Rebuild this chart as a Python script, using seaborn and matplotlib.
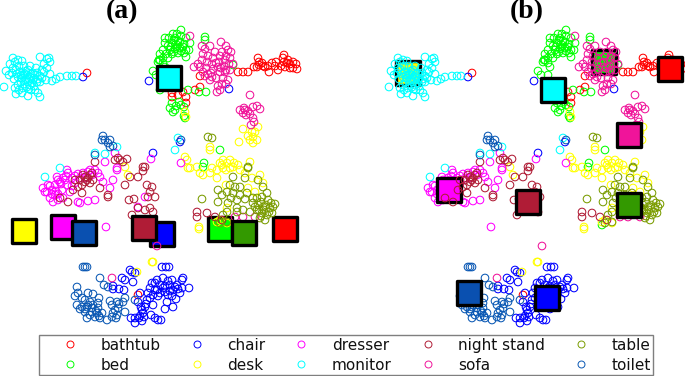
import matplotlib
matplotlib.use("Agg")
import matplotlib.pyplot as plt
from matplotlib.lines import Line2D
import seaborn as sns
import pandas as pd

sns.set_theme(style="white")

categories = ["bathtub", "bed", "chair", "desk", "dresser", "monitor", "night stand", "sofa", "table", "toilet"]
ring_colors = ["#ff0000", "#00ff00", "#0000ff", "#ffff00", "#ff00ff", "#00ffff", "#b01c36", "#f0149a", "#7a9c00", "#0a58b4"]
square_colors = ["#ff0000", "#00ff00", "#0000ff", "#ffff00", "#ff00ff", "#00ffff", "#b01c36", "#f0149a", "#339900", "#0a50b0"]

bathtub = [(258,58),(259,62),(257,67),(254,67),(262,63),(265,67),(269,72),(272,63),(275,66),(278,70),(276,62),(283,58),(284,55),(284,62),(288,60),(290,64),(293,62),(296,64),(297,69),(290,68),(285,67),(281,66),(293,68),(259,65),(263,66),(268,66),(287,63),(248,72),(243,72),(238,72),(87,73),(200,76),(195,90),(200,87),(178,95),(172,97),(186,97),(172,93),(186,103),(183,92),(138,295)]
bed = [(181,30),(177,34),(173,34),(165,38),(169,38),(175,38),(181,36),(186,38),(172,43),(168,46),(176,44),(180,42),(184,44),(190,43),(175,49),(170,50),(180,48),(186,50),(163,50),(189,50),(166,54),(172,54),(178,53),(184,53),(160,54),(186,57),(159,60),(163,58),(163,63),(158,62),(160,60),(165,67),(205,37),(205,40),(233,65),(153,71),(156,75),(163,75),(174,40),(178,41),(171,47),(177,47),(183,47),(174,52),(181,51),(165,43),(168,58),(160,90),(188,90),(199,92),(206,92),(172,103),(176,106),(170,108),(181,105),(184,107),(175,110),(173,112),(185,118),(184,116),(179,102),(220,150),(204,163),(203,167),(217,225)]
chair = [(130,270),(132,272),(135,273),(122,278),(125,280),(113,286),(113,289),(119,289),(124,290),(133,282),(162,267),(166,267),(169,267),(183,278),(182,280),(157,280),(163,278),(172,280),(152,283),(160,285),(170,285),(177,285),(182,288),(189,288),(150,288),(157,290),(165,292),(173,290),(180,293),(148,293),(153,295),(160,293),(168,295),(176,299),(167,302),(140,293),(147,300),(138,302),(153,305),(145,307),(173,307),(165,309),(142,310),(143,313),(131,318),(135,318),(140,316),(144,317),(151,315),(155,318),(158,320),(161,320),(135,323),(142,321),(155,283),(163,288),(168,281),(175,287),(158,296),(170,291),(178,289),(150,298),(155,290),(165,286),(172,296),(146,304),(141,307),(139,318),(83,77),(149,81),(229,89),(180,142),(153,153)]
desk = [(243,129),(239,142),(250,140),(253,137),(257,140),(255,132),(258,127),(253,143),(248,136),(252,132),(210,147),(210,150),(185,157),(187,160),(197,167),(223,160),(230,160),(220,163),(227,163),(233,167),(250,162),(238,165),(190,168),(185,112),(186,117),(188,168),(200,173),(203,175),(217,178),(210,173),(217,170),(223,168),(230,168),(222,165),(226,170),(234,163),(240,170),(245,173),(212,168),(248,188),(255,192),(263,183),(252,178),(260,175),(199,227),(199,229),(152,262),(153,262),(137,272),(125,167),(128,175),(220,220),(227,208),(217,222),(227,223),(226,185)]
dresser = [(43,188),(48,185),(47,192),(52,190),(55,195),(50,198),(53,202),(58,200),(63,198),(58,180),(63,178),(68,173),(72,178),(67,185),(75,183),(80,178),(83,173),(88,172),(95,170),(100,177),(103,182),(78,202),(80,203),(88,201),(95,200),(113,180),(117,170),(110,188),(145,197),(138,207),(106,227),(60,182),(57,177),(115,153),(105,162),(117,168),(151,159),(181,163),(67,170),(90,170),(55,185),(62,190),(70,192),(50,186),(56,191),(45,192),(61,184),(65,180),(72,186),(78,174),(85,178),(92,175),(58,194),(52,194),(66,176),(75,176),(98,173)]
monitor = [(13,58),(10,64),(15,62),(18,60),(22,61),(19,66),(6,71),(9,75),(12,73),(16,70),(20,72),(24,66),(28,70),(25,74),(14,79),(18,77),(22,78),(26,79),(30,77),(33,73),(36,68),(30,66),(40,57),(47,59),(50,62),(49,58),(44,64),(42,70),(37,73),(40,76),(44,72),(47,68),(50,74),(34,78),(37,82),(32,83),(28,82),(24,84),(21,82),(18,85),(15,88),(19,90),(23,88),(27,87),(31,90),(28,96),(35,90),(40,97),(38,93),(16,94),(22,93),(4,87),(40,82),(46,80),(52,81),(56,79),(60,77),(67,76),(72,76),(76,76),(27,75),(29,79),(31,74),(26,71),(23,75),(35,75),(33,80),(30,85),(25,80),(21,75),(38,79),(42,78),(29,89),(34,86),(17,74),(13,68),(178,138),(175,150),(117,147),(105,154),(95,153),(60,168),(45,177)]
night_stand = [(80,180),(85,177),(90,175),(93,180),(85,182),(78,187),(73,190),(82,193),(68,202),(60,198),(108,197),(100,188),(125,185),(130,177),(138,177),(143,171),(145,167),(147,185),(152,187),(150,192),(155,197),(148,197),(129,200),(134,199),(138,208),(145,210),(150,208),(153,212),(132,215),(197,212),(197,217),(207,213),(215,217),(222,220),(115,160),(120,160),(127,159),(95,162),(143,167),(88,178),(75,180),(83,175),(87,180),(92,173),(82,185),(90,183),(118,158),(123,162),(108,195)]
sofa = [(190,36),(221,42),(226,46),(202,46),(205,49),(210,46),(215,52),(222,52),(228,50),(231,52),(203,54),(208,56),(213,58),(220,56),(226,56),(230,58),(202,60),(207,62),(212,64),(219,62),(225,60),(198,64),(194,67),(200,67),(206,68),(213,69),(218,67),(224,66),(229,64),(233,64),(203,72),(208,74),(212,77),(220,72),(225,72),(230,70),(210,80),(216,78),(223,78),(228,80),(218,86),(222,84),(226,84),(220,90),(217,92),(216,63),(221,68),(226,70),(211,73),(205,76),(250,95),(240,110),(244,108),(248,111),(253,107),(257,106),(260,109),(243,113),(246,115),(250,114),(245,110),(254,122),(253,118),(251,125),(112,278),(157,246),(235,217),(243,217),(255,217)]
table = [(202,199),(218,190),(218,202),(222,195),(230,185),(240,187),(233,177),(245,178),(248,168),(258,180),(263,187),(227,192),(233,193),(240,195),(247,193),(237,200),(228,203),(257,198),(262,197),(267,193),(268,200),(273,207),(253,203),(258,205),(263,207),(270,208),(257,210),(262,213),(267,215),(272,213),(260,218),(265,220),(227,212),(237,208),(243,210),(250,212),(220,223),(227,222),(237,212),(223,215),(261,202),(266,205),(255,207),(259,210),(264,210),(269,212),(261,216),(271,203),(275,204),(253,198),(231,198),(235,187),(245,199),(208,137),(212,138),(248,167)]
toilet = [(85,267),(83,267),(87,267),(100,278),(104,285),(108,287),(77,287),(78,293),(75,296),(82,298),(88,293),(93,294),(99,298),(85,300),(90,302),(77,305),(82,307),(87,307),(93,305),(98,308),(110,301),(117,302),(125,298),(123,302),(135,300),(85,312),(92,312),(97,313),(102,313),(115,310),(118,308),(125,312),(87,318),(95,317),(100,318),(107,320),(112,317),(117,315),(80,309),(88,305),(92,308),(96,311),(85,309),(90,315),(99,316),(113,313),(116,318),(119,304),(112,305),(98,303),(103,136),(105,140),(102,140),(110,140),(108,143),(110,147),(113,146),(95,155),(181,140)]
point_sets = [bathtub, bed, chair, desk, dresser, monitor, night_stand, sofa, table, toilet]

squares_a = [(285,229),(220,229),(162,234),(24,231),(63,227),(169,78),(144,228),(0,0),(244,233),(84,233)]
squares_b = [(285,69),(219,62),(162,298),(23,73),(64,190),(168,90),(143,202),(244,135),(244,205),(84,293)]
panel_titles = ["(a)", "(b)"]

W, H = 685, 376
fig = plt.figure(figsize=(W / 100, H / 100), dpi=100, facecolor="white")
ax_a = fig.add_axes([0, 1 - 335 / H, 340 / W, 335 / H])
ax_b = fig.add_axes([385 / W, 1 - 335 / H, 300 / W, 335 / H])
limits = [(ax_a, 340), (ax_b, 300)]

for (ax, xmax), squares in zip(limits, [squares_a, squares_b]):
    for name, pts, rc, sc, sq in zip(categories, point_sets, ring_colors, square_colors, squares):
        df = pd.DataFrame(pts, columns=["x", "y"])
        sns.scatterplot(data=df, x="x", y="y", ax=ax, s=30, marker="o", facecolors="none",
                        edgecolor=rc, linewidth=0.75, legend=False, clip_on=False)
        if ax is ax_a and name == "sofa":
            continue  # the sofa square is not visible in panel (a)
        sns.scatterplot(x=[sq[0]], y=[sq[1]], ax=ax, s=295, marker="s", color=sc,
                        edgecolor="black", linewidth=2.4, legend=False, clip_on=False)
        ax.collections[-1].set_joinstyle("round")
    ax.set_xlim(0, xmax)
    ax.set_ylim(335, 0)
    ax.set_axis_off()

fig.text(122 / W, 1 - 12 / H, panel_titles[0], family="Liberation Serif", weight="bold",
         fontsize=20, ha="center", va="center", color="black")
fig.text(527 / W, 1 - 12 / H, panel_titles[1], family="Liberation Serif", weight="bold",
         fontsize=20, ha="center", va="center", color="black")

handles = [Line2D([], [], linestyle="none", marker="o", markerfacecolor="none", markeredgecolor=c,
                  markersize=5, markeredgewidth=0.7, label=n) for n, c in zip(categories, ring_colors)]
leg = fig.legend(handles=handles, ncol=5, loc="lower left", bbox_to_anchor=(39 / W, 1 / H),
                 frameon=True, fancybox=False, edgecolor="#7f7f7f", framealpha=1,
                 prop={"family": "DejaVu Sans", "size": 11}, handlelength=3.75, handletextpad=0.11,
                 columnspacing=0.5, labelspacing=0.33, borderpad=0.15, borderaxespad=0)
leg.get_frame().set_linewidth(1.0)
for t in leg.get_texts():
    t.set_color("#111111")

fig.savefig("out.png", dpi=100)
